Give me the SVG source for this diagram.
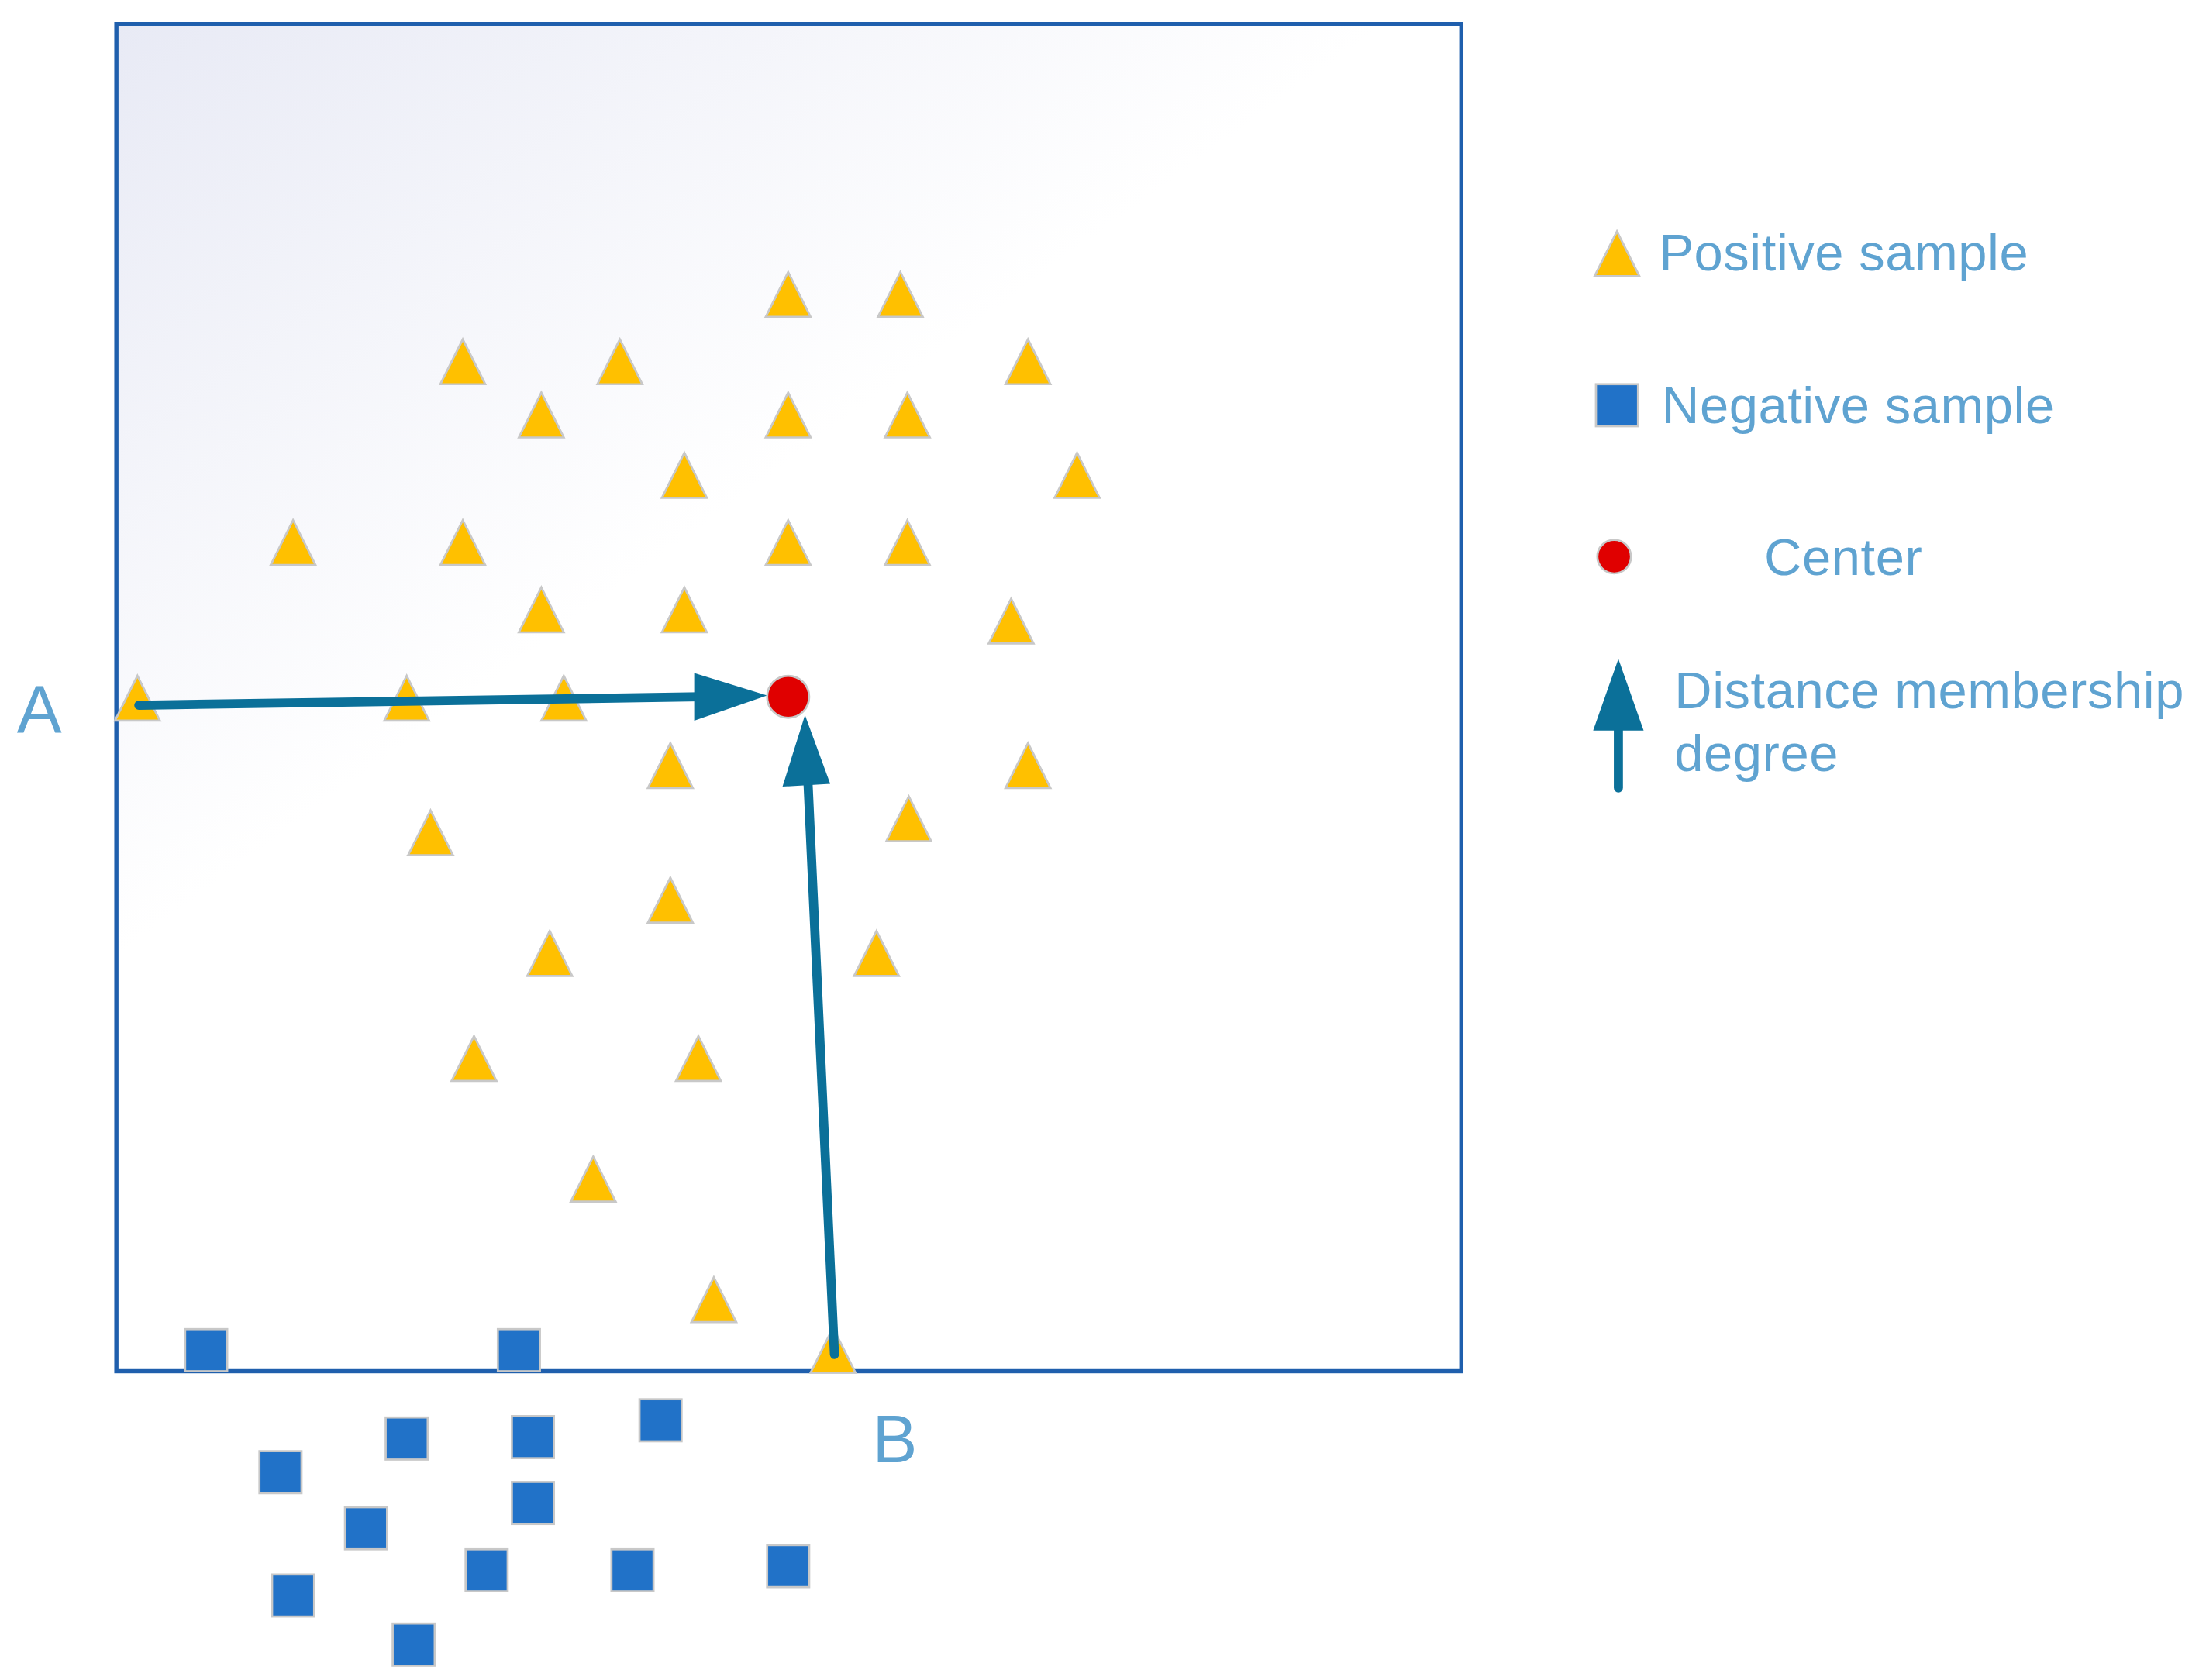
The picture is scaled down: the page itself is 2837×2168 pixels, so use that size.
<svg xmlns="http://www.w3.org/2000/svg" width="2837" height="2168" viewBox="0 0 2837 2168">
<defs>
<linearGradient id="bg" x1="0" y1="0" x2="0.55" y2="0.75">
<stop offset="0" stop-color="#e8eaf5"/><stop offset="0.6" stop-color="#ffffff"/><stop offset="1" stop-color="#ffffff"/>
</linearGradient>
<symbol id="tri" overflow="visible"><polygon points="0,-16 16,16 -16,16" fill="#ffc000" stroke="#c8c8c8" stroke-width="1.5"/></symbol>
<symbol id="sq" overflow="visible"><rect x="-15" y="-15" width="30" height="30" fill="#2172c8" stroke="#c8c8c8" stroke-width="1.5"/></symbol>
</defs>
<style>
text{font-family:"Liberation Sans",Arial,sans-serif;fill:#5fa3d1;letter-spacing:0.3px}
.conn{stroke:#0b7099;stroke-width:6.5;stroke-linecap:round;fill:none}
.head{fill:#0b7099}
</style>
<rect width="2837" height="2168" fill="#fff"/>
<g transform="scale(1.8093)">
<g id="frame"><rect x="83" y="17" width="959" height="961" fill="url(#bg)" stroke="#1f5fad" stroke-width="3"/></g>
<g id="positives">
<use href="#tri" x="562" y="210"/><use href="#tri" x="642" y="210"/>
<use href="#tri" x="330" y="258"/><use href="#tri" x="442" y="258"/><use href="#tri" x="733" y="258"/>
<use href="#tri" x="386" y="296"/><use href="#tri" x="562" y="296"/><use href="#tri" x="647" y="296"/>
<use href="#tri" x="488" y="339"/><use href="#tri" x="768" y="339"/>
<use href="#tri" x="209" y="387"/><use href="#tri" x="330" y="387"/><use href="#tri" x="562" y="387"/><use href="#tri" x="647" y="387"/>
<use href="#tri" x="386" y="435"/><use href="#tri" x="488" y="435"/><use href="#tri" x="721" y="443"/>
<use href="#tri" x="98" y="498"/><use href="#tri" x="290" y="498"/><use href="#tri" x="402" y="498"/>
<use href="#tri" x="478" y="546"/><use href="#tri" x="733" y="546"/>
<use href="#tri" x="307" y="594"/><use href="#tri" x="648" y="584"/>
<use href="#tri" x="478" y="642"/>
<use href="#tri" x="392" y="680"/><use href="#tri" x="625" y="680"/>
<use href="#tri" x="338" y="755"/><use href="#tri" x="498" y="755"/>
<use href="#tri" x="423" y="841"/>
<use href="#tri" x="509" y="927"/>
<use href="#tri" x="594" y="963"/>
</g>
<g id="negatives">
<use href="#sq" x="147" y="963"/><use href="#sq" x="370" y="963"/>
<use href="#sq" x="290" y="1026"/><use href="#sq" x="380" y="1025"/><use href="#sq" x="471" y="1013"/>
<use href="#sq" x="200" y="1050"/><use href="#sq" x="261" y="1090"/><use href="#sq" x="380" y="1072"/>
<use href="#sq" x="209" y="1138"/><use href="#sq" x="347" y="1120"/><use href="#sq" x="451" y="1120"/><use href="#sq" x="562" y="1117"/>
<use href="#sq" x="295" y="1173"/>
</g>
<g id="connectors">
<line class="conn" x1="99" y1="503" x2="500" y2="497"/>
<polygon class="head" points="547,496 495,480 495,514"/>
<line class="conn" x1="595" y1="966" x2="576" y2="555"/>
<polygon class="head" points="574,510 558,561 592,559"/>
</g>
<g id="center"><circle cx="562" cy="497" r="15" fill="#e00000" stroke="#c8c8c8" stroke-width="1.5"/></g>
<g id="labels">
<text x="12" y="523" font-size="48">A</text>
<text x="622" y="1043" font-size="48">B</text>
</g>
<g id="legend">
<use href="#tri" x="1153" y="181"/>
<text x="1183" y="193" font-size="37">Positive sample</text>
<use href="#sq" x="1153" y="289"/>
<text x="1185" y="302" font-size="37">Negative sample</text>
<circle cx="1151" cy="397" r="12" fill="#e00000" stroke="#c8c8c8" stroke-width="1.5"/>
<text x="1258" y="410" font-size="37">Center</text>
<line class="conn" x1="1154" y1="562" x2="1154" y2="515"/>
<polygon class="head" points="1154,470 1136,521 1172,521"/>
<text x="1194" y="505" font-size="37">Distance membership</text>
<text x="1194" y="550" font-size="37">degree</text>
</g>
</g>
</svg>
